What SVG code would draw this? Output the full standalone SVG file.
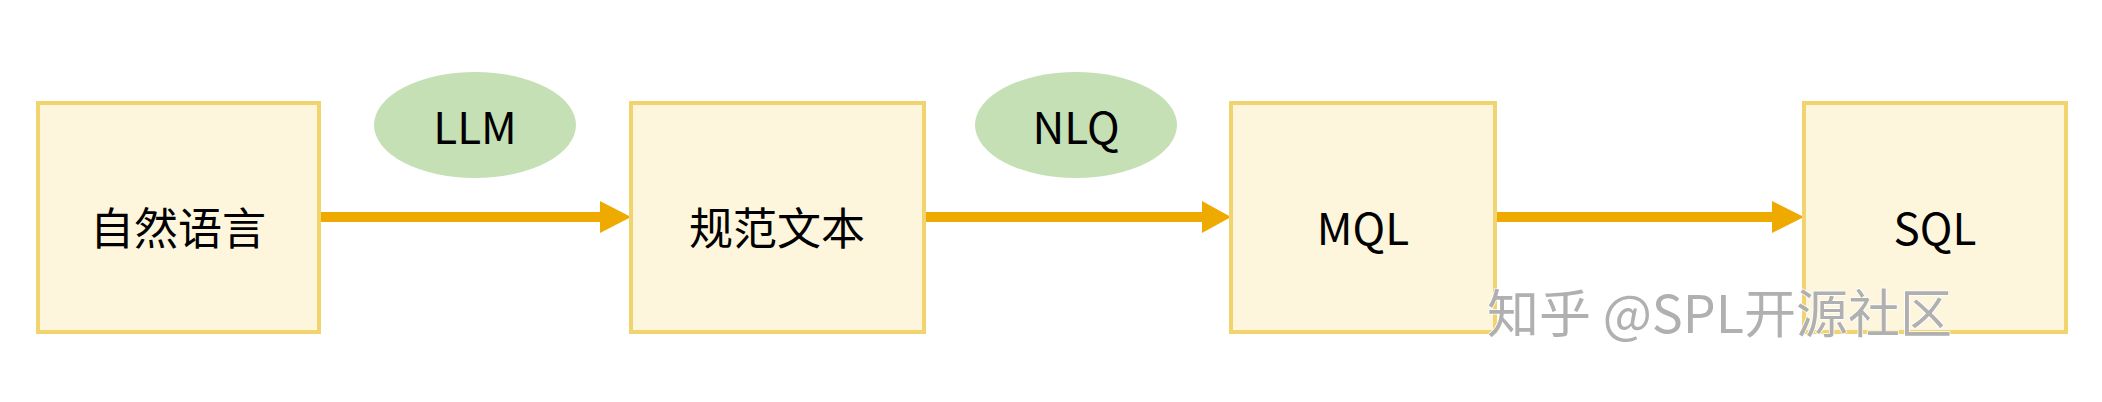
<svg xmlns="http://www.w3.org/2000/svg" width="2102" height="402" viewBox="0 0 2102 402">
<style>
.box{fill:#fdf6dd;stroke:#f1d46d;stroke-width:4}
.ell{fill:#c5e0b4}
.t{font-family:"Noto Sans CJK SC","Noto Sans",sans-serif;font-size:44px;fill:#000;text-anchor:middle;dominant-baseline:central}
.ln{stroke:#efaa00;stroke-width:10;fill:none}
.hd{fill:#efaa00}
.wm{font-family:"Noto Sans CJK SC",sans-serif;font-size:52px;fill:#b0b0b0;stroke:#ffffff;stroke-width:1.5;paint-order:stroke}
</style>
<g id="connectors">
<line class="ln" x1="321" y1="217" x2="602" y2="217"/><polygon class="hd" points="600,201 631,217 600,233"/>
<line class="ln" x1="926" y1="217" x2="1204" y2="217"/><polygon class="hd" points="1202,201 1231,217 1202,233"/>
<line class="ln" x1="1497" y1="217" x2="1775" y2="217"/><polygon class="hd" points="1772,201 1804,217 1772,233"/>
</g>
<g id="n1"><rect class="box" x="38" y="103" width="281" height="229"/><text class="t" x="178" y="226">自然语言</text></g>
<g id="n2"><rect class="box" x="631" y="103" width="293" height="229"/><text class="t" x="777" y="226">规范文本</text></g>
<g id="n3"><rect class="box" x="1231" y="103" width="264" height="229"/><text class="t" x="1363" y="226">MQL</text></g>
<g id="n4"><rect class="box" x="1804" y="103" width="262" height="229"/><text class="t" x="1935" y="226">SQL</text></g>
<g id="e1"><ellipse class="ell" cx="475" cy="125" rx="101" ry="53"/><text class="t" x="475" y="125">LLM</text></g>
<g id="e2"><ellipse class="ell" cx="1076" cy="125" rx="101" ry="53"/><text class="t" x="1076" y="125">NLQ</text></g>
<text class="wm" x="1487" y="333">知乎 @SPL开源社区</text>
</svg>
